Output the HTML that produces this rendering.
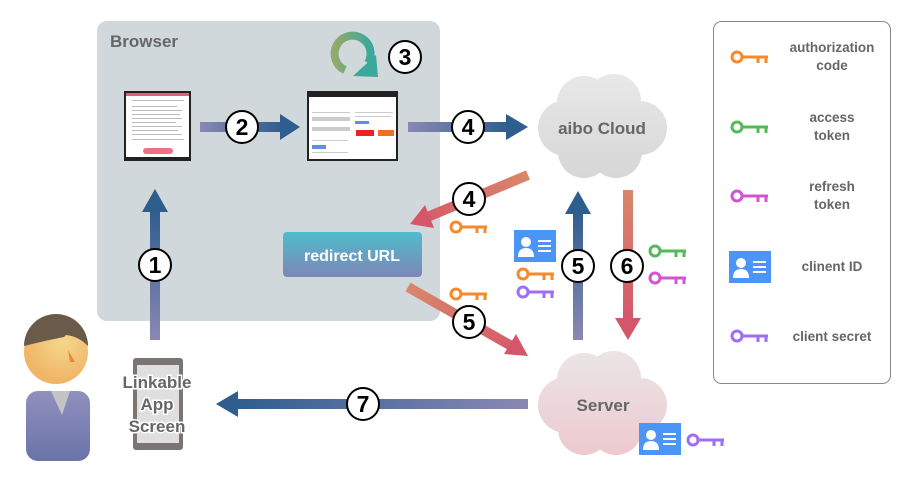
<!DOCTYPE html>
<html><head><meta charset="utf-8"><style>
html,body{margin:0;padding:0;background:#fff;}
svg{display:block;font-family:"Liberation Sans",sans-serif;}
</style></head><body>
<svg width="900" height="480" viewBox="0 0 900 480" xmlns="http://www.w3.org/2000/svg">
<defs>
<linearGradient id="gh" x1="0" x2="1" y1="0" y2="0"><stop offset="0" stop-color="#8a88b3"/><stop offset="1" stop-color="#2e5e8e"/></linearGradient>
<linearGradient id="ghr" x1="1" x2="0" y1="0" y2="0"><stop offset="0" stop-color="#8a88b3"/><stop offset="1" stop-color="#2e5e8e"/></linearGradient>
<linearGradient id="gv" x1="0" x2="0" y1="1" y2="0"><stop offset="0" stop-color="#8a88b3"/><stop offset="1" stop-color="#2e5e8e"/></linearGradient>
<linearGradient id="gr" x1="0" x2="0" y1="0" y2="1"><stop offset="0" stop-color="#d8876a"/><stop offset="1" stop-color="#d5566a"/></linearGradient>
<linearGradient id="gd1" gradientUnits="userSpaceOnUse" x1="528" y1="175" x2="412" y2="225"><stop offset="0" stop-color="#d8876a"/><stop offset="1" stop-color="#d5566a"/></linearGradient>
<linearGradient id="gd2" gradientUnits="userSpaceOnUse" x1="408" y1="287" x2="528" y2="355"><stop offset="0" stop-color="#d8876a"/><stop offset="1" stop-color="#d5566a"/></linearGradient>
<linearGradient id="cl1" gradientUnits="userSpaceOnUse" x1="0" x2="0" y1="75" y2="180"><stop offset="0" stop-color="#e8e8e8"/><stop offset="1" stop-color="#d6d6d6"/></linearGradient>
<linearGradient id="cl2" gradientUnits="userSpaceOnUse" x1="0" x2="0" y1="75" y2="180"><stop offset="0" stop-color="#ebe4e5"/><stop offset="1" stop-color="#ecc9cf"/></linearGradient>
<linearGradient id="rb" x1="0" x2="0" y1="0" y2="1"><stop offset="0" stop-color="#4fbccc"/><stop offset="1" stop-color="#7d87b8"/></linearGradient>
<linearGradient id="body" x1="0" x2="0" y1="0" y2="1"><stop offset="0" stop-color="#9090bd"/><stop offset="1" stop-color="#6a74a8"/></linearGradient>
<radialGradient id="face" cx="0.6" cy="0.35" r="0.6"><stop offset="0" stop-color="#f5d78e"/><stop offset="1" stop-color="#f0b566"/></radialGradient>
<linearGradient id="rot" x1="0" x2="1"><stop offset="0" stop-color="#94aa6a"/><stop offset="1" stop-color="#3aa89a"/></linearGradient>
<g id="key"><circle cx="0" cy="0" r="5" fill="none" stroke-width="3"/><path d="M5 0H31M21 0V6M29 0V6" fill="none" stroke-width="3"/></g>
<g id="idc"><rect x="0" y="0" width="42" height="32" fill="#4a95f5"/><circle cx="12" cy="12" r="5" fill="#fff"/><path d="M4 27 Q4 18 12 18 Q20 18 20 27Z" fill="#fff"/><path d="M24 11H37M24 16H37M24 21H37" stroke="#fff" stroke-width="2"/></g>
<g id="cloud"><circle cx="566" cy="128" r="28"/><circle cx="584" cy="103" r="27"/><circle cx="614" cy="101" r="27"/><circle cx="640" cy="128" r="27"/><circle cx="584" cy="152" r="26"/><circle cx="616" cy="152" r="26"/><rect x="566" y="105" width="74" height="50"/></g>
</defs>

<rect x="97" y="21" width="343" height="300" rx="10" fill="#d0d8db"/>
<text x="110" y="47" font-size="17" font-weight="bold" fill="#666">Browser</text>

<rect x="124" y="91" width="67" height="70" fill="#222"/>
<rect x="126" y="93" width="63" height="64" fill="#fff"/>
<rect x="126" y="93" width="63" height="3" fill="#e45f78"/>
<g fill="#bbb"><rect x="132" y="100" width="52" height="1"/><rect x="132" y="106" width="45" height="1"/><rect x="132" y="110" width="50" height="1"/><rect x="132" y="114" width="48" height="1"/><rect x="132" y="118" width="50" height="1"/><rect x="132" y="122" width="44" height="1"/><rect x="132" y="126" width="50" height="1"/><rect x="132" y="130" width="46" height="1"/><rect x="132" y="134" width="50" height="1"/><rect x="132" y="139" width="52" height="1"/></g>
<rect x="143" y="148" width="30" height="6" rx="3" fill="#f07088"/>

<rect x="307" y="91" width="91" height="70" fill="#222"/>
<rect x="309" y="97" width="87" height="62" fill="#fff"/>
<g fill="#ccc"><rect x="312" y="112" width="38" height="1"/><rect x="355" y="112" width="38" height="1"/><rect x="312" y="117" width="38" height="4"/><rect x="312" y="127" width="38" height="4"/><rect x="355" y="116" width="36" height="1"/><rect x="312" y="140" width="36" height="1"/><rect x="312" y="152" width="36" height="1"/></g>
<rect x="355" y="121" width="14" height="3" fill="#5b8fe8"/>
<rect x="312" y="145" width="14" height="4" fill="#5b8fe8"/>
<rect x="356" y="130" width="18" height="6" fill="#e22"/><rect x="378" y="130" width="16" height="6" fill="#f07020"/>

<path d="M345 70 A18 18 0 1 1 368 63" fill="none" stroke="url(#rot)" stroke-width="8"/>
<path d="M353 76 L376 55 L378 77 Z" fill="#3aa89a"/>

<rect x="200" y="122" width="82" height="10" fill="url(#gh)"/><path d="M280 114L300 127L280 140Z" fill="#2e5e8e"/>
<rect x="408" y="122" width="102" height="10" fill="url(#gh)"/><path d="M506 114L528 127L506 140Z" fill="#2e5e8e"/>
<rect x="150" y="210" width="10" height="130" fill="url(#gv)"/><path d="M142 212L155 189L168 212Z" fill="#2e5e8e"/>
<rect x="573" y="210" width="10" height="130" fill="url(#gv)"/><path d="M565 214L578 191L591 214Z" fill="#2e5e8e"/>
<rect x="623" y="190" width="10" height="130" fill="url(#gr)"/><path d="M615 318L628 340L641 318Z" fill="#d5566a"/>
<path d="M528 175 L425 218" stroke="url(#gd1)" stroke-width="10"/><path d="M410 224 L425 205 L434 228Z" fill="#d5566a"/>
<path d="M408 287 L515 348" stroke="url(#gd2)" stroke-width="10"/><path d="M528 356 L504 354 L516 334Z" fill="#d5566a"/>
<rect x="236" y="399" width="292" height="10" fill="url(#ghr)"/><path d="M238 391L216 404L238 417Z" fill="#2e5e8e"/>

<g fill="url(#cl1)"><use href="#cloud"/></g>
<text x="602" y="134" font-size="17" font-weight="bold" fill="#666" text-anchor="middle">aibo Cloud</text>
<g fill="url(#cl2)" transform="translate(0,277)"><use href="#cloud"/></g>
<text x="603" y="411" font-size="17" font-weight="bold" fill="#666" text-anchor="middle">Server</text>

<rect x="283" y="232" width="139" height="45" rx="4" fill="url(#rb)"/>
<text x="352" y="261" font-size="16" font-weight="bold" fill="#fff" text-anchor="middle">redirect URL</text>

<circle cx="56" cy="352" r="32" fill="url(#face)"/>
<path d="M24 346 A32 32 0 0 1 88 346 Q78 336 66 335 L64 337 Q48 340 24 346Z" fill="#6a5a4a"/>
<path d="M68 350 L75 362 L70 362Z" fill="#e08a3a"/>
<rect x="26" y="391" width="64" height="70" rx="12" fill="url(#body)"/>
<path d="M51 391 L70 391 L62 415Z" fill="#c4c4c4"/>

<rect x="133" y="358" width="50" height="92" rx="3" fill="#7a7572"/>
<rect x="137" y="365" width="42" height="78" fill="#e0dede"/>
<g font-size="17" font-weight="bold" fill="#666" text-anchor="middle" stroke="#fff" stroke-width="3" paint-order="stroke">
<text x="157" y="388">Linkable</text><text x="157" y="410">App</text><text x="157" y="432">Screen</text></g>

<g font-size="23" font-weight="bold" text-anchor="middle" fill="#000">
<circle cx="242" cy="127" r="16" fill="#fff" stroke="#000" stroke-width="2"/><text x="242" y="135">2</text>
<circle cx="405" cy="57" r="16" fill="#fff" stroke="#000" stroke-width="2"/><text x="405" y="65">3</text>
<circle cx="468" cy="127" r="16" fill="#fff" stroke="#000" stroke-width="2"/><text x="468" y="135">4</text>
<circle cx="469" cy="199" r="16" fill="#fff" stroke="#000" stroke-width="2"/><text x="469" y="207">4</text>
<circle cx="155" cy="265" r="16" fill="#fff" stroke="#000" stroke-width="2"/><text x="155" y="273">1</text>
<circle cx="469" cy="322" r="16" fill="#fff" stroke="#000" stroke-width="2"/><text x="469" y="330">5</text>
<circle cx="578" cy="266" r="16" fill="#fff" stroke="#000" stroke-width="2"/><text x="578" y="274">5</text>
<circle cx="627" cy="266" r="16" fill="#fff" stroke="#000" stroke-width="2"/><text x="627" y="274">6</text>
<circle cx="363" cy="404" r="16" fill="#fff" stroke="#000" stroke-width="2"/><text x="363" y="412">7</text>
</g>

<use href="#key" transform="translate(456,227)" stroke="#f68a2a"/>
<use href="#key" transform="translate(456,294)" stroke="#f68a2a"/>
<use href="#idc" transform="translate(514,230)"/>
<use href="#key" transform="translate(523,274)" stroke="#f68a2a"/>
<use href="#key" transform="translate(523,292)" stroke="#9e6ef5"/>
<use href="#key" transform="translate(655,251)" stroke="#55b85a"/>
<use href="#key" transform="translate(655,278)" stroke="#d055d0"/>
<use href="#idc" transform="translate(639,423)"/>
<use href="#key" transform="translate(693,440)" stroke="#9e6ef5"/>

<rect x="713.5" y="21.5" width="177" height="362" rx="8" fill="#fff" stroke="#888" stroke-width="1"/>
<use href="#key" transform="translate(737,57)" stroke="#f68a2a"/>
<use href="#key" transform="translate(737,127)" stroke="#55b85a"/>
<use href="#key" transform="translate(737,196)" stroke="#d055d0"/>
<use href="#idc" transform="translate(729,251)"/>
<use href="#key" transform="translate(737,336)" stroke="#9e6ef5"/>
<g font-size="13.5" font-weight="bold" fill="#666" text-anchor="middle">
<text x="832" y="52">authorization</text><text x="832" y="70">code</text>
<text x="832" y="122">access</text><text x="832" y="140">token</text>
<text x="832" y="191">refresh</text><text x="832" y="209">token</text>
<text x="832" y="271">clinent ID</text>
<text x="832" y="341">client secret</text>
</g>
</svg>
</body></html>
